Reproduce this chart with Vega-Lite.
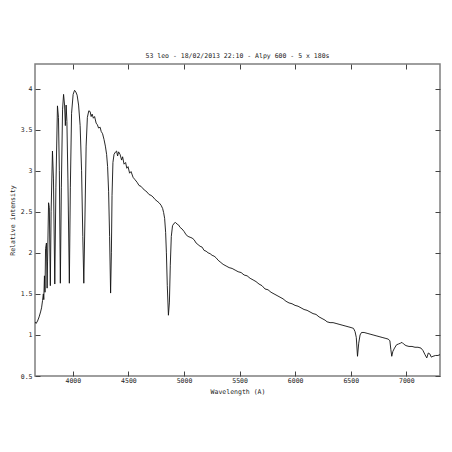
{
  "$schema": "https://vega.github.io/schema/vega-lite/v6.json",
  "width": 405,
  "height": 312,
  "autosize": "none",
  "padding": {"left": 35, "top": 64, "right": 12, "bottom": 76},
  "background": "white",
  "title": {"text": "53 leo - 18/02/2013 22:10 - Alpy 600 - 5 x 180s", "font": "DejaVu Sans Mono", "fontSize": 6.5, "fontWeight": "normal", "color": "#222", "offset": 4, "anchor": "middle"},
  "config": {
    "view": {"stroke": "#7f7f7f", "strokeWidth": 1.5},
    "axis": {"domain": false, "grid": false, "tickColor": "#444", "tickSize": -5, "labelFont": "DejaVu Sans Mono", "labelFontSize": 6.5, "labelColor": "#222", "titleFont": "DejaVu Sans Mono", "titleFontSize": 6.5, "titleFontWeight": "normal", "titleColor": "#222"}
  },
  "data": {"values": [
    {"w":3659,"v":1.16},{"w":3670,"v":1.14},{"w":3683,"v":1.17},{"w":3697,"v":1.22},{"w":3710,"v":1.28},{"w":3719,"v":1.33},{"w":3728,"v":1.42},{"w":3735,"v":1.5},{"w":3739,"v":1.43},{"w":3745,"v":1.72},{"w":3750,"v":1.52},{"w":3755,"v":2.05},{"w":3763,"v":2.12},{"w":3769,"v":1.57},{"w":3773,"v":1.9},{"w":3782,"v":2.61},{"w":3789,"v":2.55},{"w":3798,"v":1.6},{"w":3805,"v":2.5},{"w":3817,"v":3.24},{"w":3826,"v":2.9},{"w":3838,"v":1.62},{"w":3848,"v":2.8},{"w":3862,"v":3.79},{"w":3871,"v":3.65},{"w":3879,"v":3.0},{"w":3888,"v":1.63},{"w":3897,"v":2.8},{"w":3908,"v":3.75},{"w":3917,"v":3.93},{"w":3926,"v":3.8},{"w":3933,"v":3.55},{"w":3940,"v":3.8},{"w":3947,"v":3.6},{"w":3956,"v":2.9},{"w":3969,"v":1.63},{"w":3978,"v":2.8},{"w":3989,"v":3.7},{"w":4003,"v":3.93},{"w":4016,"v":3.98},{"w":4027,"v":3.96},{"w":4039,"v":3.92},{"w":4052,"v":3.8},{"w":4066,"v":3.55},{"w":4079,"v":3.0},{"w":4090,"v":2.2},{"w":4099,"v":1.63},{"w":4109,"v":2.4},{"w":4120,"v":3.3},{"w":4131,"v":3.65},{"w":4144,"v":3.73},{"w":4156,"v":3.72},{"w":4165,"v":3.66},{"w":4174,"v":3.69},{"w":4185,"v":3.64},{"w":4196,"v":3.66},{"w":4210,"v":3.58},{"w":4221,"v":3.56},{"w":4232,"v":3.52},{"w":4246,"v":3.53},{"w":4255,"v":3.48},{"w":4268,"v":3.45},{"w":4281,"v":3.38},{"w":4293,"v":3.3},{"w":4304,"v":3.2},{"w":4313,"v":3.05},{"w":4322,"v":2.75},{"w":4331,"v":2.2},{"w":4340,"v":1.51},{"w":4347,"v":2.0},{"w":4353,"v":2.7},{"w":4361,"v":3.1},{"w":4371,"v":3.2},{"w":4385,"v":3.23},{"w":4394,"v":3.24},{"w":4403,"v":3.18},{"w":4412,"v":3.23},{"w":4425,"v":3.2},{"w":4439,"v":3.13},{"w":4448,"v":3.17},{"w":4461,"v":3.08},{"w":4475,"v":3.1},{"w":4486,"v":3.03},{"w":4497,"v":3.05},{"w":4511,"v":2.97},{"w":4524,"v":2.99},{"w":4542,"v":2.92},{"w":4560,"v":2.89},{"w":4578,"v":2.86},{"w":4596,"v":2.82},{"w":4614,"v":2.81},{"w":4632,"v":2.78},{"w":4650,"v":2.76},{"w":4668,"v":2.74},{"w":4686,"v":2.71},{"w":4704,"v":2.7},{"w":4722,"v":2.68},{"w":4740,"v":2.65},{"w":4758,"v":2.63},{"w":4776,"v":2.61},{"w":4794,"v":2.58},{"w":4808,"v":2.54},{"w":4817,"v":2.49},{"w":4826,"v":2.42},{"w":4835,"v":2.25},{"w":4842,"v":2.0},{"w":4850,"v":1.6},{"w":4860,"v":1.24},{"w":4869,"v":1.4},{"w":4877,"v":1.85},{"w":4886,"v":2.2},{"w":4897,"v":2.33},{"w":4911,"v":2.36},{"w":4924,"v":2.37},{"w":4938,"v":2.35},{"w":4951,"v":2.34},{"w":4965,"v":2.31},{"w":4983,"v":2.29},{"w":5001,"v":2.26},{"w":5019,"v":2.22},{"w":5037,"v":2.2},{"w":5055,"v":2.19},{"w":5073,"v":2.18},{"w":5091,"v":2.16},{"w":5109,"v":2.12},{"w":5127,"v":2.1},{"w":5145,"v":2.08},{"w":5163,"v":2.07},{"w":5181,"v":2.03},{"w":5199,"v":2.02},{"w":5217,"v":2.0},{"w":5235,"v":1.99},{"w":5253,"v":1.97},{"w":5271,"v":1.96},{"w":5289,"v":1.94},{"w":5307,"v":1.91},{"w":5325,"v":1.89},{"w":5352,"v":1.86},{"w":5379,"v":1.84},{"w":5406,"v":1.82},{"w":5433,"v":1.81},{"w":5460,"v":1.79},{"w":5487,"v":1.77},{"w":5514,"v":1.76},{"w":5541,"v":1.73},{"w":5568,"v":1.72},{"w":5595,"v":1.69},{"w":5622,"v":1.67},{"w":5648,"v":1.65},{"w":5675,"v":1.62},{"w":5702,"v":1.6},{"w":5729,"v":1.56},{"w":5756,"v":1.55},{"w":5783,"v":1.52},{"w":5810,"v":1.5},{"w":5837,"v":1.48},{"w":5864,"v":1.46},{"w":5891,"v":1.44},{"w":5918,"v":1.41},{"w":5945,"v":1.39},{"w":5972,"v":1.38},{"w":5999,"v":1.36},{"w":6026,"v":1.35},{"w":6053,"v":1.33},{"w":6080,"v":1.31},{"w":6107,"v":1.3},{"w":6134,"v":1.28},{"w":6161,"v":1.26},{"w":6188,"v":1.25},{"w":6215,"v":1.22},{"w":6242,"v":1.2},{"w":6269,"v":1.18},{"w":6287,"v":1.16},{"w":6314,"v":1.15},{"w":6341,"v":1.15},{"w":6368,"v":1.14},{"w":6395,"v":1.13},{"w":6422,"v":1.12},{"w":6449,"v":1.11},{"w":6476,"v":1.1},{"w":6503,"v":1.09},{"w":6525,"v":1.08},{"w":6539,"v":1.04},{"w":6550,"v":0.97},{"w":6561,"v":0.74},{"w":6572,"v":0.9},{"w":6584,"v":1.0},{"w":6597,"v":1.03},{"w":6620,"v":1.03},{"w":6647,"v":1.02},{"w":6674,"v":1.01},{"w":6701,"v":1.0},{"w":6728,"v":0.99},{"w":6755,"v":0.98},{"w":6782,"v":0.97},{"w":6809,"v":0.96},{"w":6836,"v":0.95},{"w":6852,"v":0.93},{"w":6861,"v":0.82},{"w":6869,"v":0.74},{"w":6879,"v":0.8},{"w":6894,"v":0.84},{"w":6912,"v":0.88},{"w":6930,"v":0.89},{"w":6948,"v":0.9},{"w":6961,"v":0.91},{"w":6975,"v":0.89},{"w":6997,"v":0.87},{"w":7024,"v":0.86},{"w":7051,"v":0.86},{"w":7078,"v":0.85},{"w":7105,"v":0.85},{"w":7132,"v":0.84},{"w":7150,"v":0.81},{"w":7168,"v":0.76},{"w":7184,"v":0.72},{"w":7198,"v":0.78},{"w":7211,"v":0.77},{"w":7225,"v":0.73},{"w":7240,"v":0.74},{"w":7263,"v":0.75},{"w":7285,"v":0.75},{"w":7303,"v":0.76}
  ]},
  "layer": [
    {
      "mark": {"type": "line", "color": "#111", "strokeWidth": 0.9, "clip": true},
      "encoding": {
        "x": {"field": "w", "type": "quantitative", "scale": {"domain": [3660, 7303], "nice": false, "zero": false},
              "axis": {"orient": "bottom", "title": "Wavelength (A)", "format": "d", "values": [4000,4500,5000,5500,6000,6500,7000], "labelPadding": 6, "titlePadding": 5}},
        "y": {"field": "v", "type": "quantitative", "scale": {"domain": [0.5, 4.3], "nice": false, "zero": false},
              "axis": {"orient": "left", "title": "Relative intensity", "format": "~g", "values": [0.5,1,1.5,2,2.5,3,3.5,4], "labelPadding": 8, "titlePadding": 5}}
      }
    },
    {
      "mark": {"type": "line", "opacity": 0},
      "encoding": {
        "x": {"field": "w", "type": "quantitative", "axis": {"orient": "top", "title": null, "labels": false, "tickSize": -5, "values": [4000,4500,5000,5500,6000,6500,7000]}},
        "y": {"field": "v", "type": "quantitative", "axis": {"orient": "right", "title": null, "labels": false, "tickSize": -5, "values": [0.5,1,1.5,2,2.5,3,3.5,4]}}
      }
    }
  ],
  "resolve": {"axis": {"x": "independent", "y": "independent"}}
}
